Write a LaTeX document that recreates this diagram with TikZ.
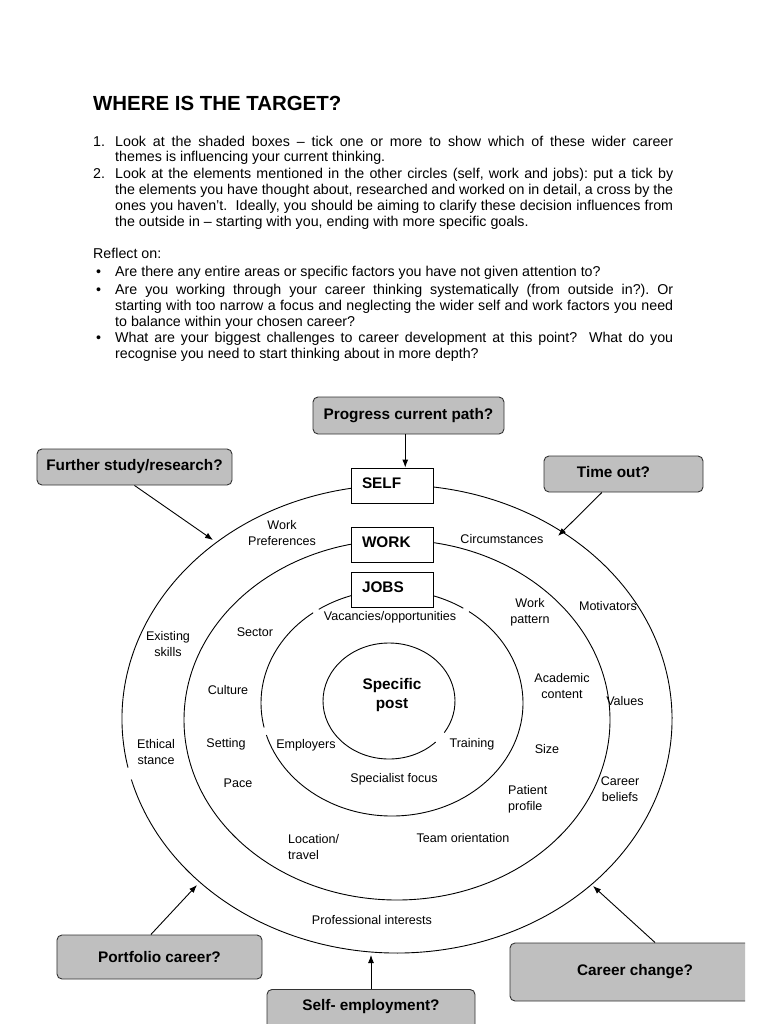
\documentclass[tikz,border=0pt]{standalone}
\usepackage{fontspec}
\setmainfont{Liberation Sans}
\usetikzlibrary{arrows.meta,calc}
\begin{document}
\begin{tikzpicture}[x=1bp,y=-1bp,
  titlestyle/.style={font=\fontsize{20.5}{24}\selectfont\bfseries, anchor=base west, inner sep=0pt},
  body/.style={font=\fontsize{14.3}{16}\selectfont\frenchspacing, anchor=base west, inner sep=0pt},
  lab/.style={font=\fontsize{12.6}{16}\selectfont, align=center, inner sep=0pt},
  boldlab/.style={font=\fontsize{15.4}{20}\selectfont\bfseries, align=center, inner sep=0pt},
  graybox/.style={draw=black!80, fill=gray!50, rounded corners=5bp, line width=0.9bp,
    font=\fontsize{15.4}{18}\selectfont\bfseries, inner sep=0pt},
  wbox/.style={draw=black, fill=white, line width=0.9bp, minimum height=35bp,
    text width=60bp, inner xsep=11bp, inner ysep=0pt, align=left,
    text height=11bp, text depth=6bp,
    font=\fontsize{15.4}{18}\selectfont\bfseries},
  ring/.style={line width=0.9bp},
  arr/.style={line width=0.9bp, -{Latex[length=8bp,width=6bp]}},
]
\useasboundingbox (0,0) rectangle (768,1024);
\fill[white] (0,0) rectangle (768,1024);

% ---------- header text ----------
\node[titlestyle] (title) at (93,110.5) {WHERE IS THE TARGET?};

\node[body] (n1) at (93,146.5) {1.};
\node[body] (t1a) at (115,146.5) {\makebox[558bp][s]{Look at the shaded boxes – tick one or more to show which of these wider career}};
\node[body] (t1b) at (115,161.5) {themes is influencing your current thinking.};
\node[body] (n2) at (93,178.5) {2.};
\node[body] (t2a) at (115,178.5) {\makebox[558bp][s]{Look at the elements mentioned in the other circles (self, work and jobs): put a tick by}};
\node[body] (t2b) at (115,194.5) {\makebox[558bp][s]{the elements you have thought about, researched and worked on in detail, a cross by the}};
\node[body] (t2c) at (115,210.5) {\makebox[558bp][s]{ones you haven’t. \ Ideally, you should be aiming to clarify these decision influences from}};
\node[body] (t2d) at (115,226.5) {the outside in – starting with you, ending with more specific goals.};

\node[body] (refl) at (93,258.5) {Reflect on:};
\node[body] (b1) at (96,276.5) {•};
\node[body] (r1) at (115,276.5) {Are there any entire areas or specific factors you have not given attention to?};
\node[body] (b2) at (96,294.5) {•};
\node[body] (r2a) at (115,294.5) {\makebox[558bp][s]{Are you working through your career thinking systematically (from outside in?). Or}};
\node[body] (r2b) at (115,310.5) {\makebox[558bp][s]{starting with too narrow a focus and neglecting the wider self and work factors you need}};
\node[body] (r2c) at (115,326.5) {to balance within your chosen career?};
\node[body] (b3) at (96,342.5) {•};
\node[body] (r3a) at (115,342.5) {\makebox[558bp][s]{What are your biggest challenges to career development at this point? \ What do you}};
\node[body] (r3b) at (115,358.5) {recognise you need to start thinking about in more depth?};

% ---------- rings ----------
\draw[ring] ([shift={(397,719)}]168:275 and 234) arc[start angle=168, end angle=525, x radius=275, y radius=234];
\draw[ring] (397,720) ellipse [x radius=213, y radius=180];
\draw[ring] ([shift={(392,703)}]167.5:131 and 113) arc[start angle=167.5, end angle=233, x radius=131, y radius=113];
\draw[ring] ([shift={(392,703)}]236:131 and 113) arc[start angle=236, end angle=303, x radius=131, y radius=113];
\draw[ring] ([shift={(392,703)}]306:131 and 113) arc[start angle=306, end angle=523.5, x radius=131, y radius=113];
\draw[ring] ([shift={(389,701)}]45:66 and 58) arc[start angle=45, end angle=393, x radius=66, y radius=58];

% ---------- boxes ----------
\node[graybox, minimum width=191bp, minimum height=37bp] (progress) at (408.5,415.5) {Progress current path?};
\node[wbox] (self) at (392,485.5) {SELF};
\node[wbox] (work) at (392,545) {WORK};
\node[wbox] (jobs) at (392,590) {JOBS};

\node[graybox, minimum width=195bp, minimum height=36bp] (further) at (134.5,467) {Further study/research?};
\node[graybox, minimum width=159bp, minimum height=36bp, text height=11bp, text depth=4bp] (timeout) at (623.5,474) {Time out?\hspace*{20bp}};
\node[graybox, minimum width=205bp, minimum height=44bp] (portfolio) at (159.5,957) {Portfolio career?};
\node[graybox, minimum width=208bp, anchor=north, text height=11bp, text depth=25bp, inner ysep=10.5bp] (selfemp) at (371,989) {Self- employment?};
\begin{scope}
\clip (0,0) rectangle (745,1024);
\node[graybox, minimum width=250bp, minimum height=58bp] (change) at (635,972) {Career change?};
\end{scope}

% ---------- arrows ----------
\coordinate (pcStart) at ($(progress.south west)!0.483!(progress.south east)$);
\draw[arr] (pcStart) -- (pcStart |- self.north);

\coordinate (fsTip) at (213,540);
\draw[arr] (further.south) -- (fsTip);

\coordinate (toStart) at ($(timeout.south west)!0.365!(timeout.south east)$);
\coordinate (toTip) at (558,536);
\draw[arr] (toStart) -- (toTip);

\coordinate (pfStart) at ($(portfolio.north west)!0.458!(portfolio.north east)$);
\coordinate (pfTip) at (197,885);
\draw[arr] (pfStart) -- (pfTip);

\coordinate (seTip) at (371,955);
\draw[arr] (selfemp.north) -- (seTip);

\coordinate (ccStart) at ($(change.north west)!0.58!(change.north east)$);
\coordinate (ccTip) at (593,886);
\draw[arr] (ccStart) -- (ccTip);

% ---------- ring labels ----------
\node[lab] (wpref) at (282,533) {Work\\Preferences};
\node[lab] (circ) at (502,539) {Circumstances};
\node[lab] (motiv) at (608,606) {Motivators};
\node[lab] (exist) at (168,644) {Existing\\skills};
\node[lab] (sector) at (255,632) {Sector};
\node[lab] (vac) at (390,617) {Vacancies/opportunities};
\node[lab] (wpat) at (530,612) {Work\\pattern};
\node[lab] (acad) at (562,686) {Academic\\content};
\node[lab] (values) at (625,701) {Values};
\node[lab] (culture) at (228,690) {Culture};
\node[boldlab] (spec) at (392,695) {Specific\\post};
\node[lab] (ethical) at (156,752) {Ethical\\stance};
\node[lab] (setting) at (226,744) {Setting};
\node[lab] (employers) at (306,745) {Employers};
\node[lab] (training) at (472,744) {Training};
\node[lab] (size) at (547,749) {Size};
\node[lab] (pace) at (238,783) {Pace};
\node[lab] (specfoc) at (394,779) {Specialist focus};
\node[lab, align=left, anchor=west] (patient) at (508,799) {Patient\\profile};
\node[lab] (beliefs) at (620,789) {Career\\beliefs};
\node[lab, align=left, anchor=west] (location) at (288,847) {Location/\\travel};
\node[lab] (team) at (463,838) {Team orientation};
\node[lab] (prof) at (372,920) {Professional interests};
\end{tikzpicture}
\end{document}
